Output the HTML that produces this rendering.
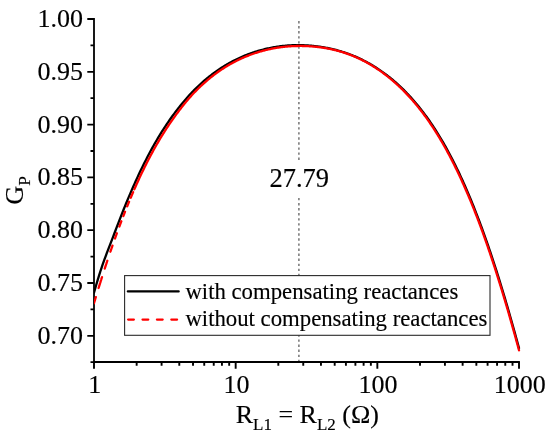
<!DOCTYPE html>
<html><head><meta charset="utf-8"><title>plot</title>
<style>
html,body{margin:0;padding:0;background:#fff}
svg{display:block}
text{font-family:"Liberation Serif",serif;fill:#000;stroke:#000;stroke-width:0.15px}
</style></head><body>
<svg width="550" height="437" viewBox="0 0 550 437">
<rect width="550" height="437" fill="#fff"/>
<line x1="298.9" y1="21" x2="298.9" y2="361.4" stroke="#6a6a6a" stroke-width="1.4" stroke-dasharray="2.4,2.655"/>
<path d="M94.0,19V362H519" fill="none" stroke="#000" stroke-width="1.8" stroke-linecap="square"/>
<path d="M90.50,362.20H94.00M87.30,335.80H94.00M90.50,309.40H94.00M87.30,283.00H94.00M90.50,256.60H94.00M87.30,230.20H94.00M90.50,203.80H94.00M87.30,177.40H94.00M90.50,151.00H94.00M87.30,124.60H94.00M90.50,98.20H94.00M87.30,71.80H94.00M90.50,45.40H94.00M87.30,19.00H94.00" stroke="#000" stroke-width="1.8" fill="none"/>
<path d="M94.00,362V368.8M136.65,362V365.7M161.59,362V365.7M179.29,362V365.7M193.02,362V365.7M204.24,362V365.7M213.73,362V365.7M221.94,362V365.7M229.19,362V365.7M235.67,362V368.8M278.32,362V365.7M303.26,362V365.7M320.96,362V365.7M334.69,362V365.7M345.91,362V365.7M355.40,362V365.7M363.61,362V365.7M370.86,362V365.7M377.34,362V368.8M419.99,362V365.7M444.93,362V365.7M462.63,362V365.7M476.36,362V365.7M487.58,362V365.7M497.07,362V365.7M505.28,362V365.7M512.53,362V365.7M519.01,362V368.8" stroke="#000" stroke-width="1.9" fill="none"/>
<clipPath id="c"><rect x="94" y="10" width="430" height="352"/></clipPath>
<g clip-path="url(#c)" fill="none" stroke-linejoin="round" stroke-linecap="round">
<path d="M94.00,292.65 L95.07,288.89 L96.13,285.20 L97.20,281.59 L98.26,278.05 L99.33,274.60 L100.39,271.26 L101.46,268.05 L102.52,264.93 L103.59,261.91 L104.65,258.95 L105.72,256.06 L106.78,253.21 L107.85,250.40 L108.91,247.61 L109.98,244.83 L111.04,242.07 L112.11,239.31 L113.17,236.55 L114.24,233.78 L115.30,231.00 L116.37,228.21 L117.43,225.41 L118.50,222.62 L119.56,219.85 L120.63,217.11 L121.69,214.40 L122.76,211.71 L123.83,209.05 L124.89,206.41 L125.96,203.80 L127.02,201.22 L128.09,198.66 L129.15,196.14 L130.22,193.63 L131.28,191.16 L132.35,188.71 L133.41,186.29 L134.48,183.90 L135.54,181.53 L136.61,179.19 L137.67,176.88 L138.74,174.60 L139.80,172.34 L140.87,170.12 L141.93,167.92 L143.00,165.75 L144.06,163.60 L145.13,161.49 L146.19,159.40 L147.26,157.34 L148.32,155.30 L149.39,153.30 L150.45,151.31 L151.52,149.36 L152.59,147.43 L153.65,145.53 L154.72,143.65 L155.78,141.80 L156.85,139.98 L157.91,138.18 L158.98,136.41 L160.04,134.66 L161.11,132.93 L162.17,131.23 L163.24,129.56 L164.30,127.91 L165.37,126.28 L166.43,124.67 L167.50,123.09 L168.56,121.53 L169.63,120.00 L170.69,118.49 L171.76,117.00 L172.82,115.53 L173.89,114.08 L174.95,112.65 L176.02,111.25 L177.08,109.86 L178.15,108.48 L179.22,107.13 L180.28,105.79 L181.35,104.47 L182.41,103.17 L183.48,101.89 L184.54,100.62 L185.61,99.38 L186.67,98.15 L187.74,96.94 L188.80,95.76 L189.87,94.59 L190.93,93.45 L192.00,92.32 L193.06,91.22 L194.13,90.14 L195.19,89.08 L196.26,88.03 L197.32,87.00 L198.39,85.99 L199.45,84.99 L200.52,84.01 L201.58,83.04 L202.65,82.10 L203.71,81.16 L204.78,80.25 L205.84,79.34 L206.91,78.46 L207.98,77.59 L209.04,76.73 L210.11,75.89 L211.17,75.06 L212.24,74.25 L213.30,73.45 L214.37,72.67 L215.43,71.90 L216.50,71.14 L217.56,70.40 L218.63,69.67 L219.69,68.95 L220.76,68.25 L221.82,67.56 L222.89,66.89 L223.95,66.22 L225.02,65.57 L226.08,64.93 L227.15,64.31 L228.21,63.69 L229.28,63.09 L230.34,62.50 L231.41,61.93 L232.47,61.36 L233.54,60.80 L234.60,60.26 L235.67,59.73 L236.74,59.21 L237.80,58.70 L238.87,58.20 L239.93,57.71 L241.00,57.24 L242.06,56.77 L243.13,56.31 L244.19,55.87 L245.26,55.43 L246.32,55.00 L247.39,54.59 L248.45,54.18 L249.52,53.78 L250.58,53.40 L251.65,53.02 L252.71,52.65 L253.78,52.30 L254.84,51.95 L255.91,51.61 L256.97,51.28 L258.04,50.96 L259.10,50.65 L260.17,50.34 L261.23,50.05 L262.30,49.77 L263.36,49.49 L264.43,49.23 L265.50,48.97 L266.56,48.72 L267.63,48.48 L268.69,48.25 L269.76,48.03 L270.82,47.81 L271.89,47.61 L272.95,47.41 L274.02,47.22 L275.08,47.04 L276.15,46.87 L277.21,46.71 L278.28,46.55 L279.34,46.40 L280.41,46.26 L281.47,46.13 L282.54,46.01 L283.60,45.90 L284.67,45.79 L285.73,45.69 L286.80,45.60 L287.86,45.52 L288.93,45.45 L289.99,45.38 L291.06,45.32 L292.12,45.27 L293.19,45.23 L294.26,45.20 L295.32,45.17 L296.39,45.15 L297.45,45.14 L298.52,45.14 L299.58,45.14 L300.65,45.16 L301.71,45.18 L302.78,45.21 L303.84,45.25 L304.91,45.29 L305.97,45.35 L307.04,45.41 L308.10,45.48 L309.17,45.55 L310.23,45.64 L311.30,45.73 L312.36,45.83 L313.43,45.93 L314.49,46.05 L315.56,46.17 L316.62,46.30 L317.69,46.43 L318.75,46.58 L319.82,46.73 L320.89,46.89 L321.95,47.05 L323.02,47.23 L324.08,47.41 L325.15,47.60 L326.21,47.80 L327.28,48.00 L328.34,48.22 L329.41,48.44 L330.47,48.67 L331.54,48.90 L332.60,49.15 L333.67,49.40 L334.73,49.67 L335.80,49.94 L336.86,50.22 L337.93,50.51 L338.99,50.80 L340.06,51.11 L341.12,51.43 L342.19,51.75 L343.25,52.09 L344.32,52.43 L345.38,52.78 L346.45,53.14 L347.51,53.52 L348.58,53.90 L349.65,54.29 L350.71,54.70 L351.78,55.11 L352.84,55.54 L353.91,55.97 L354.97,56.42 L356.04,56.88 L357.10,57.35 L358.17,57.83 L359.23,58.32 L360.30,58.82 L361.36,59.34 L362.43,59.86 L363.49,60.40 L364.56,60.95 L365.62,61.51 L366.69,62.08 L367.75,62.66 L368.82,63.25 L369.88,63.86 L370.95,64.48 L372.01,65.11 L373.08,65.75 L374.14,66.40 L375.21,67.07 L376.27,67.75 L377.34,68.44 L378.41,69.14 L379.47,69.86 L380.54,70.58 L381.60,71.33 L382.67,72.08 L383.73,72.85 L384.80,73.63 L385.86,74.43 L386.93,75.23 L387.99,76.06 L389.06,76.89 L390.12,77.74 L391.19,78.61 L392.25,79.49 L393.32,80.38 L394.38,81.29 L395.45,82.21 L396.51,83.15 L397.58,84.11 L398.64,85.08 L399.71,86.07 L400.77,87.07 L401.84,88.09 L402.90,89.13 L403.97,90.18 L405.03,91.25 L406.10,92.34 L407.17,93.44 L408.23,94.56 L409.30,95.70 L410.36,96.86 L411.43,98.04 L412.49,99.23 L413.56,100.44 L414.62,101.67 L415.69,102.92 L416.75,104.19 L417.82,105.48 L418.88,106.79 L419.95,108.12 L421.01,109.47 L422.08,110.84 L423.14,112.23 L424.21,113.64 L425.27,115.07 L426.34,116.52 L427.40,118.00 L428.47,119.50 L429.53,121.02 L430.60,122.56 L431.66,124.12 L432.73,125.71 L433.79,127.32 L434.86,128.96 L435.93,130.62 L436.99,132.30 L438.06,134.01 L439.12,135.74 L440.19,137.49 L441.25,139.27 L442.32,141.08 L443.38,142.91 L444.45,144.77 L445.51,146.65 L446.58,148.56 L447.64,150.50 L448.71,152.46 L449.77,154.45 L450.84,156.47 L451.90,158.51 L452.97,160.58 L454.03,162.68 L455.10,164.81 L456.16,166.97 L457.23,169.15 L458.29,171.36 L459.36,173.61 L460.42,175.88 L461.49,178.18 L462.56,180.51 L463.62,182.87 L464.69,185.26 L465.75,187.68 L466.82,190.13 L467.88,192.62 L468.95,195.13 L470.01,197.67 L471.08,200.25 L472.14,202.85 L473.21,205.49 L474.27,208.16 L475.34,210.86 L476.40,213.59 L477.47,216.35 L478.53,219.15 L479.60,221.97 L480.66,224.83 L481.73,227.72 L482.79,230.64 L483.86,233.59 L484.92,236.57 L485.99,239.59 L487.05,242.63 L488.12,245.71 L489.18,248.82 L490.25,251.96 L491.32,255.13 L492.38,258.33 L493.45,261.56 L494.51,264.83 L495.58,268.12 L496.64,271.45 L497.71,274.81 L498.77,278.20 L499.84,281.62 L500.90,285.07 L501.97,288.55 L503.03,292.05 L504.10,295.59 L505.16,299.16 L506.23,302.76 L507.29,306.39 L508.36,310.05 L509.42,313.73 L510.49,317.45 L511.55,321.19 L512.62,324.96 L513.68,328.76 L514.75,332.59 L515.81,336.44 L516.88,340.32 L517.94,344.23 L519.01,348.16" stroke="#000" stroke-width="2.3"/>
<path d="M94.00,303.20 L94.07,302.97 L94.14,302.73 L94.21,302.49 L94.28,302.25 L94.35,302.02 L94.43,301.78 L94.50,301.54 L94.57,301.30 L94.64,301.07 L94.71,300.83 L94.78,300.59 L94.85,300.36 L94.92,300.12 L94.99,299.88 L95.06,299.65 L95.13,299.41 L95.20,299.18 L95.28,298.94 L95.35,298.70 L95.42,298.47 L95.49,298.23 L95.56,298.00 L95.63,297.76 L95.70,297.53 L95.77,297.29 L95.84,297.06 M98.61,288.00 L98.68,287.78 L98.75,287.55 L98.82,287.32 L98.89,287.09 L98.96,286.86 L99.03,286.63 L99.10,286.40 L99.17,286.17 L99.24,285.94 L99.31,285.72 L99.38,285.49 L99.46,285.26 L99.53,285.03 L99.60,284.80 L99.67,284.58 L99.74,284.35 L99.81,284.12 L99.88,283.89 L99.95,283.67 L100.02,283.44 L100.09,283.21 L100.16,282.99 L100.23,282.76 L100.31,282.53 L100.38,282.31 L100.45,282.08 L100.52,281.85 L100.59,281.63 L100.66,281.40 L100.73,281.18 L100.80,280.95 L100.87,280.73 L100.94,280.50 L101.01,280.28 L101.08,280.05 L101.16,279.83 L101.23,279.60 L101.30,279.38 L101.37,279.15 L101.44,278.93 L101.51,278.70 L101.58,278.48 L101.65,278.25 L101.72,278.03 L101.79,277.81 L101.86,277.58 L101.93,277.36 L102.01,277.14 M104.77,268.53 L104.84,268.31 L104.91,268.10 L104.98,267.88 L105.05,267.66 L105.12,267.44 L105.19,267.23 L105.26,267.01 L105.34,266.79 L105.41,266.58 L105.48,266.36 L105.55,266.14 L105.62,265.93 L105.69,265.71 L105.76,265.49 L105.83,265.28 L105.90,265.06 L105.97,264.85 L106.04,264.63 L106.11,264.41 L106.19,264.20 L106.26,263.98 L106.33,263.77 L106.40,263.55 L106.47,263.34 L106.54,263.12 L106.61,262.91 L106.68,262.70 L106.75,262.48 L106.82,262.27 L106.89,262.05 L106.96,261.84 L107.04,261.63 L107.11,261.41 L107.18,261.20 L107.25,260.99 L107.32,260.77 M110.37,251.73 L110.44,251.52 L110.51,251.32 L110.58,251.11 L110.65,250.90 L110.72,250.70 L110.79,250.49 L110.86,250.28 L110.93,250.08 L111.00,249.87 L111.07,249.67 L111.14,249.46 L111.22,249.25 L111.29,249.05 L111.36,248.84 L111.43,248.64 L111.50,248.43 L111.57,248.23 L111.64,248.02 L111.71,247.82 L111.78,247.61 L111.85,247.41 L111.92,247.20 L112.00,247.00 L112.07,246.80 L112.14,246.59 L112.21,246.39 L112.28,246.18 L112.35,245.98 L112.42,245.78 L112.49,245.57 M114.97,238.54 L115.04,238.35 L115.11,238.15 L115.18,237.95 L115.25,237.75 L115.32,237.55 L115.40,237.36 L115.47,237.16 L115.54,236.96 L115.61,236.76 L115.68,236.57 L115.75,236.37 L115.82,236.17 L115.89,235.98 L115.96,235.78 L116.03,235.58 L116.10,235.39 L116.18,235.19 L116.25,234.99 L116.32,234.80 L116.39,234.60 L116.46,234.41 L116.53,234.21 L116.60,234.01 L116.67,233.82 L116.74,233.62 L116.81,233.43 L116.88,233.23 M119.36,226.50 L119.43,226.31 L119.50,226.12 L119.58,225.93 L119.65,225.74 L119.72,225.55 L119.79,225.36 L119.86,225.17 L119.93,224.98 L120.00,224.79 L120.07,224.61 L120.14,224.42 L120.21,224.23 L120.28,224.04 L120.36,223.85 L120.43,223.66 L120.50,223.48 L120.57,223.29 L120.64,223.10 L120.71,222.91 L120.78,222.73 L120.85,222.54 L120.92,222.35 L120.99,222.16 L121.06,221.98 L121.13,221.79 L121.21,221.60 L121.28,221.42 L121.35,221.23 M123.33,216.07 L123.40,215.89 L123.47,215.70 L123.54,215.52 L123.61,215.34 L123.68,215.16 L123.76,214.98 L123.83,214.79 L123.90,214.61 L123.97,214.43 L124.04,214.25 L124.11,214.07 L124.18,213.89 L124.25,213.71 L124.32,213.53 L124.39,213.35 L124.46,213.17 L124.53,212.99 L124.61,212.81 L124.68,212.63 L124.75,212.45 L124.82,212.27 L124.89,212.09 L124.96,211.91 L125.03,211.73 M127.16,206.41 L127.23,206.23 L127.30,206.06 L127.37,205.88 L127.44,205.71 L127.51,205.54 L127.58,205.36 L127.65,205.19 L127.72,205.01 L127.79,204.84 L127.86,204.66 L127.94,204.49 L128.01,204.32 L128.08,204.14 L128.15,203.97 L128.22,203.80 L128.29,203.62 L128.36,203.45 L128.43,203.28 L128.50,203.10 L128.57,202.93 L128.64,202.76 L128.71,202.59 L128.79,202.41 L128.86,202.24 L128.93,202.07 L129.00,201.90 L129.07,201.73 M130.70,197.81 L130.77,197.64 L130.84,197.48 L130.91,197.31 L130.98,197.14 L131.05,196.97 L131.12,196.80 L131.19,196.64 L131.27,196.47 L131.34,196.30 L131.41,196.13 L131.48,195.97 L131.55,195.80 L131.62,195.63 L131.69,195.46 L131.76,195.30 L131.83,195.13 L131.90,194.96 L131.97,194.80 L132.04,194.63 L132.12,194.47 L132.19,194.30 L132.26,194.13 L132.33,193.97 L132.40,193.80 L132.47,193.64 L132.54,193.47 L132.61,193.31 L132.68,193.14 L132.75,192.98 L132.82,192.81 L132.89,192.65 L132.97,192.48 L133.04,192.32 L133.11,192.15 M134.31,189.38 L135.02,187.77 L135.73,186.17 L136.44,184.58 L137.15,183.01 L137.85,181.45 L138.56,179.90 L139.27,178.36 L139.98,176.84 L140.69,175.33 L141.40,173.84 L142.10,172.35 L142.81,170.88 L143.52,169.42 L144.23,167.98 L144.94,166.54 L145.65,165.12 L146.36,163.72 L147.06,162.32 L147.77,160.94 L148.48,159.56 L149.19,158.21 L149.90,156.86 L150.61,155.52 L151.32,154.20 L152.02,152.89 L152.73,151.59 L153.44,150.30 L154.15,149.02 L154.86,147.75 L155.57,146.50 L156.27,145.25 L156.98,144.02 L157.69,142.80 L158.40,141.59 L159.11,140.39 L159.82,139.20 L160.53,138.02 L161.23,136.86 L161.94,135.70 L162.65,134.55 L163.36,133.42 L164.07,132.29 L164.78,131.18 L165.48,130.07 L166.19,128.97 L166.90,127.89 L167.61,126.81 L168.32,125.75 L169.03,124.69 L169.74,123.64 L170.44,122.61 L171.15,121.58 L171.86,120.56 L172.57,119.55 L173.28,118.55 L173.99,117.56 L174.69,116.58 L175.40,115.60 L176.11,114.64 L176.82,113.67 L177.53,112.72 L178.24,111.77 L178.95,110.83 L179.65,109.90 L180.36,108.97 L181.07,108.05 L181.78,107.14 L182.49,106.24 L183.20,105.35 L183.90,104.46 L184.61,103.58 L185.32,102.72 L186.03,101.86 L186.74,101.01 L187.45,100.17 L188.16,99.34 L188.86,98.52 L189.57,97.71 L190.28,96.91 L190.99,96.12 L191.70,95.34 L192.41,94.57 L193.11,93.81 L193.82,93.06 L194.53,92.32 L195.24,91.59 L195.95,90.87 L196.66,90.15 L197.37,89.44 L198.07,88.74 L198.78,88.05 L199.49,87.37 L200.20,86.69 L200.91,86.02 L201.62,85.35 L202.32,84.70 L203.03,84.05 L203.74,83.41 L204.45,82.78 L205.16,82.15 L205.87,81.53 L206.58,80.92 L207.28,80.32 L207.99,79.72 L208.70,79.13 L209.41,78.54 L210.12,77.96 L210.83,77.39 L211.53,76.83 L212.24,76.27 L212.95,75.72 L213.66,75.18 L214.37,74.64 L215.08,74.11 L215.79,73.58 L216.49,73.06 L217.20,72.55 L217.91,72.04 L218.62,71.54 L219.33,71.05 L220.04,70.56 L220.74,70.08 L221.45,69.61 L222.16,69.14 L222.87,68.67 L223.58,68.21 L224.29,67.76 L225.00,67.32 L225.70,66.87 L226.41,66.44 L227.12,66.01 L227.83,65.59 L228.54,65.17 L229.25,64.76 L229.96,64.35 L230.66,63.95 L231.37,63.55 L232.08,63.16 L232.79,62.78 L233.50,62.39 L234.21,62.02 L234.91,61.65 L235.62,61.29 L236.33,60.93 L237.04,60.57 L237.75,60.22 L238.46,59.88 L239.17,59.54 L239.87,59.20 L240.58,58.87 L241.29,58.55 L242.00,58.23 L242.71,57.91 L243.42,57.60 L244.12,57.30 L244.83,57.00 L245.54,56.70 L246.25,56.41 L246.96,56.12 L247.67,55.84 L248.38,55.56 L249.08,55.29 L249.79,55.02 L250.50,54.75 L251.21,54.49 L251.92,54.24 L252.63,53.98 L253.33,53.74 L254.04,53.49 L254.75,53.25 L255.46,53.02 L256.17,52.79 L256.88,52.56 L257.59,52.34 L258.29,52.12 L259.00,51.91 L259.71,51.70 L260.42,51.49 L261.13,51.29 L261.84,51.10 L262.54,50.90 L263.25,50.71 L263.96,50.53 L264.67,50.34 L265.38,50.17 L266.09,49.99 L266.80,49.82 L267.50,49.66 L268.21,49.50 L268.92,49.34 L269.63,49.18 L270.34,49.03 L271.05,48.88 L271.75,48.74 L272.46,48.60 L273.17,48.47 L273.88,48.33 L274.59,48.21 L275.30,48.08 L276.01,47.96 L276.71,47.84 L277.42,47.73 L278.13,47.62 L278.84,47.51 L279.55,47.41 L280.26,47.31 L280.96,47.22 L281.67,47.13 L282.38,47.04 L283.09,46.95 L283.80,46.87 L284.51,46.79 L285.22,46.72 L285.92,46.65 L286.63,46.58 L287.34,46.52 L288.05,46.46 L288.76,46.40 L289.47,46.35 L290.17,46.30 L290.88,46.25 L291.59,46.21 L292.30,46.17 L293.01,46.14 L293.72,46.10 L294.43,46.07 L295.13,46.05 L295.84,46.03 L296.55,46.01 L297.26,45.99 L297.97,45.98 L298.68,45.97 L299.38,45.97 L300.09,45.97 L300.80,45.97 L301.51,45.97 L302.22,45.98 L302.93,45.99 L303.64,46.01 L304.34,46.02 L305.05,46.04 L305.76,46.07 L306.47,46.10 L307.18,46.13 L307.89,46.16 L308.59,46.20 L309.30,46.24 L310.01,46.28 L310.72,46.33 L311.43,46.38 L312.14,46.43 L312.85,46.49 L313.55,46.55 L314.26,46.61 L314.97,46.68 L315.68,46.75 L316.39,46.83 L317.10,46.90 L317.81,46.99 L318.51,47.07 L319.22,47.16 L319.93,47.25 L320.64,47.35 L321.35,47.45 L322.06,47.55 L322.76,47.65 L323.47,47.76 L324.18,47.88 L324.89,48.00 L325.60,48.12 L326.31,48.24 L327.02,48.37 L327.72,48.50 L328.43,48.64 L329.14,48.78 L329.85,48.92 L330.56,49.07 L331.27,49.22 L331.97,49.38 L332.68,49.54 L333.39,49.70 L334.10,49.87 L334.81,50.04 L335.52,50.22 L336.23,50.39 L336.93,50.58 L337.64,50.77 L338.35,50.96 L339.06,51.16 L339.77,51.36 L340.48,51.56 L341.18,51.77 L341.89,51.98 L342.60,52.20 L343.31,52.42 L344.02,52.65 L344.73,52.88 L345.44,53.12 L346.14,53.36 L346.85,53.60 L347.56,53.85 L348.27,54.10 L348.98,54.36 L349.69,54.63 L350.39,54.90 L351.10,55.17 L351.81,55.45 L352.52,55.74 L353.23,56.02 L353.94,56.32 L354.65,56.62 L355.35,56.92 L356.06,57.23 L356.77,57.55 L357.48,57.86 L358.19,58.19 L358.90,58.52 L359.60,58.85 L360.31,59.19 L361.02,59.54 L361.73,59.89 L362.44,60.24 L363.15,60.61 L363.86,60.97 L364.56,61.34 L365.27,61.72 L365.98,62.10 L366.69,62.49 L367.40,62.88 L368.11,63.28 L368.81,63.68 L369.52,64.09 L370.23,64.51 L370.94,64.93 L371.65,65.35 L372.36,65.78 L373.07,66.22 L373.77,66.66 L374.48,67.11 L375.19,67.56 L375.90,68.02 L376.61,68.49 L377.32,68.96 L378.02,69.43 L378.73,69.91 L379.44,70.40 L380.15,70.90 L380.86,71.40 L381.57,71.90 L382.28,72.41 L382.98,72.93 L383.69,73.45 L384.40,73.98 L385.11,74.52 L385.82,75.06 L386.53,75.61 L387.23,76.16 L387.94,76.72 L388.65,77.29 L389.36,77.86 L390.07,78.44 L390.78,79.03 L391.49,79.62 L392.19,80.22 L392.90,80.82 L393.61,81.43 L394.32,82.05 L395.03,82.68 L395.74,83.31 L396.45,83.95 L397.15,84.59 L397.86,85.24 L398.57,85.90 L399.28,86.57 L399.99,87.24 L400.70,87.92 L401.40,88.60 L402.11,89.30 L402.82,90.00 L403.53,90.70 L404.24,91.42 L404.95,92.14 L405.66,92.87 L406.36,93.61 L407.07,94.35 L407.78,95.11 L408.49,95.87 L409.20,96.64 L409.91,97.41 L410.61,98.20 L411.32,98.99 L412.03,99.79 L412.74,100.60 L413.45,101.42 L414.16,102.25 L414.87,103.08 L415.57,103.92 L416.28,104.78 L416.99,105.64 L417.70,106.51 L418.41,107.39 L419.12,108.27 L419.82,109.17 L420.53,110.07 L421.24,110.99 L421.95,111.91 L422.66,112.85 L423.37,113.79 L424.08,114.74 L424.78,115.70 L425.49,116.67 L426.20,117.65 L426.91,118.64 L427.62,119.64 L428.33,120.65 L429.03,121.67 L429.74,122.70 L430.45,123.74 L431.16,124.78 L431.87,125.84 L432.58,126.91 L433.29,127.99 L433.99,129.08 L434.70,130.18 L435.41,131.29 L436.12,132.42 L436.83,133.55 L437.54,134.69 L438.24,135.84 L438.95,137.01 L439.66,138.18 L440.37,139.37 L441.08,140.57 L441.79,141.78 L442.50,143.00 L443.20,144.23 L443.91,145.47 L444.62,146.72 L445.33,147.99 L446.04,149.26 L446.75,150.55 L447.45,151.85 L448.16,153.16 L448.87,154.48 L449.58,155.82 L450.29,157.17 L451.00,158.52 L451.71,159.90 L452.41,161.28 L453.12,162.67 L453.83,164.08 L454.54,165.50 L455.25,166.93 L455.96,168.38 L456.66,169.83 L457.37,171.30 L458.08,172.78 L458.79,174.28 L459.50,175.78 L460.21,177.30 L460.92,178.83 L461.62,180.38 L462.33,181.94 L463.04,183.51 L463.75,185.09 L464.46,186.69 L465.17,188.30 L465.87,189.92 L466.58,191.56 L467.29,193.21 L468.00,194.87 L468.71,196.54 L469.42,198.23 L470.13,199.93 L470.83,201.65 L471.54,203.38 L472.25,205.12 L472.96,206.88 L473.67,208.65 L474.38,210.43 L475.08,212.23 L475.79,214.04 L476.50,215.86 L477.21,217.70 L477.92,219.55 L478.63,221.42 L479.34,223.30 L480.04,225.19 L480.75,227.10 L481.46,229.02 L482.17,230.96 L482.88,232.91 L483.59,234.87 L484.30,236.85 L485.00,238.84 L485.71,240.85 L486.42,242.87 L487.13,244.90 L487.84,246.95 L488.55,249.01 L489.25,251.08 L489.96,253.17 L490.67,255.27 L491.38,257.39 L492.09,259.52 L492.80,261.66 L493.51,263.82 L494.21,265.99 L494.92,268.18 L495.63,270.37 L496.34,272.59 L497.05,274.81 L497.76,277.05 L498.46,279.30 L499.17,281.57 L499.88,283.85 L500.59,286.14 L501.30,288.45 L502.01,290.77 L502.72,293.10 L503.42,295.45 L504.13,297.81 L504.84,300.18 L505.55,302.57 L506.26,304.96 L506.97,307.38 L507.67,309.80 L508.38,312.24 L509.09,314.69 L509.80,317.15 L510.51,319.62 L511.22,322.11 L511.93,324.61 L512.63,327.12 L513.34,329.65 L514.05,332.19 L514.76,334.73 L515.47,337.29 L516.18,339.87 L516.88,342.45 L517.59,345.05 L518.30,347.65 L519.01,350.27 L519.01,350.27 " stroke="#f00" stroke-width="2.3"/>
</g>
<g font-size="26">
<text x="82.9" y="343.7" text-anchor="end">0.70</text>
<text x="82.9" y="290.9" text-anchor="end">0.75</text>
<text x="82.9" y="238.1" text-anchor="end">0.80</text>
<text x="82.9" y="185.3" text-anchor="end">0.85</text>
<text x="82.9" y="132.5" text-anchor="end">0.90</text>
<text x="82.9" y="79.7" text-anchor="end">0.95</text>
<text x="82.9" y="26.9" text-anchor="end">1.00</text>
<text x="94.8" y="392.9" text-anchor="middle">1</text>
<text x="236.5" y="392.9" text-anchor="middle">10</text>
<text x="378.1" y="392.9" text-anchor="middle">100</text>
<text x="519.8" y="392.9" text-anchor="middle">1000</text>
</g>
<rect x="124.6" y="275.6" width="365.4" height="59.7" fill="#fff" stroke="#2a2a2a" stroke-width="1.1"/>
<line x1="127.8" y1="291.4" x2="178.7" y2="291.4" stroke="#000" stroke-width="2.2" stroke-linecap="round"/>
<line x1="128.1" y1="319.6" x2="177.3" y2="319.6" stroke="#f00" stroke-width="2.2" stroke-linecap="round" stroke-dasharray="5.8,8.6"/>
<g font-size="22.75">
<text x="185.4" y="298.8">with compensating reactances</text>
<text x="185.4" y="325.6">without compensating reactances</text>
</g>
<rect x="266" y="160" width="66" height="37.5" fill="#fff"/>
<text x="299.3" y="187" font-size="26.5" text-anchor="middle">27.79</text>
<text x="235.7" y="423.2" font-size="26">R<tspan font-size="17" dy="6.7">L1</tspan><tspan dy="-6.7"> = R</tspan><tspan font-size="17" dy="6.7">L2</tspan><tspan dy="-6.7"> (Ω)</tspan></text>
<text transform="translate(23.4,204.5) rotate(-90)" font-size="26">G<tspan font-size="17.5" dy="6.6">P</tspan></text>
</svg>
</body></html>
